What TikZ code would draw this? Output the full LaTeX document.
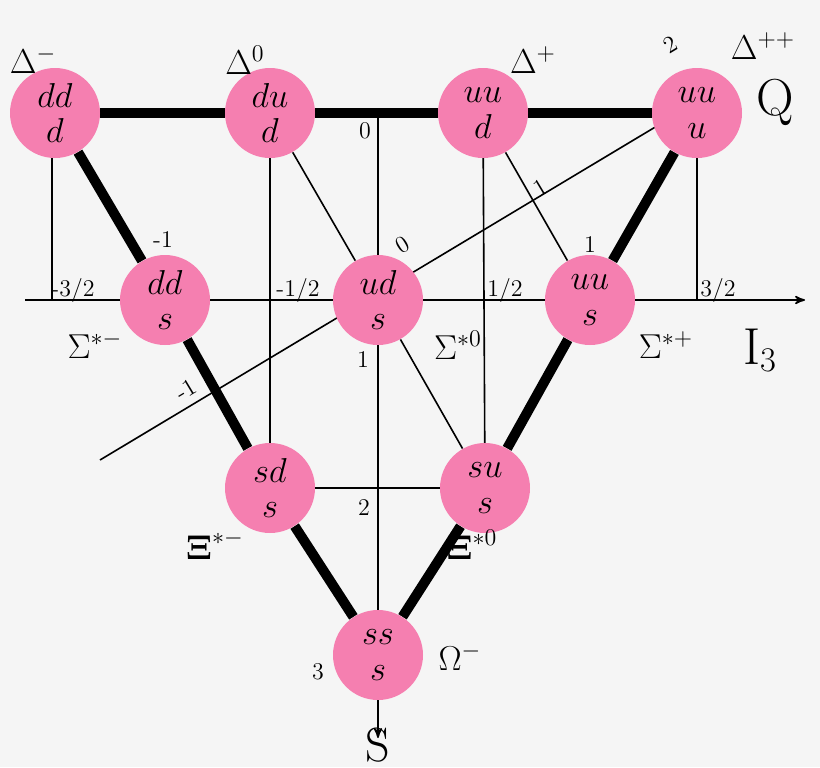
\documentclass[tikz,border=0pt]{standalone}
\usepackage{amsmath}
\usetikzlibrary{arrows}
\definecolor{pinkq}{HTML}{F57FB0}
\definecolor{bgq}{HTML}{F5F5F5}
\pgfdeclarelayer{bg}
\pgfdeclarelayer{back}
\pgfsetlayers{back,bg,main}
\begin{document}
\begin{tikzpicture}[x=0.5pt,y=-0.5pt,>=stealth',semithick]
        \tikzstyle{quark}=[circle,fill=pinkq,minimum size=45pt,inner sep=0pt,
          align=center,font=\LARGE\linespread{0.8}\selectfont]
        \tikzstyle{thick edge}=[line width=5pt]
        \tikzstyle{thin edge}=[line width=0.8pt]
        \tikzstyle{num}=[font=\large,inner sep=1pt]
        \tikzstyle{pname}=[font=\LARGE]
        \begin{pgfonlayer}{back}
        \fill[bgq] (0,0) rectangle (820,767);
        \end{pgfonlayer}
        \useasboundingbox (0,0) rectangle (820,767);

        \node[quark] (Dm) at (55,113)  {$dd$\\$d$};
        \node[quark] (D0) at (270,113) {$du$\\$d$};
        \node[quark] (Dp) at (483,113) {$uu$\\$d$};
        \node[quark] (Dpp) at (697,113) {$uu$\\$u$};
        \node[quark] (Sm) at (165,300) {$dd$\\$s$};
        \node[quark] (S0) at (378,300) {$ud$\\$s$};
        \node[quark] (Sp) at (590,300) {$uu$\\$s$};
        \node[quark] (Xm) at (270,488) {$sd$\\$s$};
        \node[quark] (X0) at (485,488) {$su$\\$s$};
        \node[quark] (Om) at (378,655) {$ss$\\$s$};

        % axes and thin lines
        \coordinate (Ia) at (25,300);  \coordinate (Ib) at (805,300);
        \coordinate (Qa) at (100,460); \coordinate (Qb) at (727,84);
        \coordinate (Sa) at (378,113); \coordinate (Sb) at (378,738);
        \coordinate (Pa) at (52,113);  \coordinate (Pb) at (52,300);
        \coordinate (Pc) at (697,113); \coordinate (Pd) at (697,300);
        \begin{pgfonlayer}{bg}
        \draw[thin edge,->] (Ia) -- (Ib);
        \draw[thin edge,->] (Qa) -- (Qb);
        \draw[thin edge,->] (Sa) -- (Sb);
        \draw[thin edge] (Pa) -- (Pb);
        \draw[thin edge] (Pc) -- (Pd);
        \path[thin edge] (D0.center) edge (Xm.center) (D0) edge (S0) (Dp.center) edge (X0.center)
          (Dp) edge (Sp) (S0) edge (X0) (Xm) edge (X0);
        \path[thick edge] (Dm) edge (D0) (D0) edge (Dp) (Dp) edge (Dpp)
          (Dm) edge (Sm) (Sm) edge (Xm) (Xm) edge (Om)
          (Dpp) edge (Sp) (Sp) edge (X0) (X0) edge (Om);
        \end{pgfonlayer}

        % numbers
        \node[num] at (365,131) {0};
        \node[num,rotate=31] at (403,245) {0};
        \node[num] at (163,240) {-1};
        \node[num] at (73,290) {-3/2};
        \node[num] at (298,290) {-1/2};
        \node[num] at (505,290) {1/2};
        \node[num] at (718,290) {3/2};
        \node[num] at (590,245) {1};
        \node[num,rotate=31] at (540,188) {1};
        \node[num,rotate=31] at (670,45) {2};
        \node[num,rotate=31] at (186,390) {-1};
        \node[num] at (363,360) {1};
        \node[num] at (364,508) {2};
        \node[num] at (318,672) {3};

        % particle names
        \node[pname] at (33,60) {$\Delta^{-}$};
        \node[pname] at (245,60) {$\Delta^{0}$};
        \node[pname] at (533,60) {$\Delta^{+}$};
        \node[pname] at (763,46) {$\Delta^{++}$};
        \node[pname] at (95,345) {$\Sigma^{*-}$};
        \node[pname] at (458,345) {$\Sigma^{*0}$};
        \node[pname] at (666,345) {$\Sigma^{*+}$};
        \node[pname] at (215,545) {$\boldsymbol{\Xi}^{*-}$};
        \node[pname] at (472,545) {$\boldsymbol{\Xi}^{*0}$};
        \node[pname] at (460,657) {$\Omega^{-}$};
        \node[font=\fontsize{26}{28}\selectfont] at (775,102) {Q};
        \node[font=\fontsize{26}{28}\selectfont] at (760,350) {I$_3$};
        \node[font=\fontsize{24}{26}\selectfont] at (378,745) {S};
\end{tikzpicture}
\end{document}
